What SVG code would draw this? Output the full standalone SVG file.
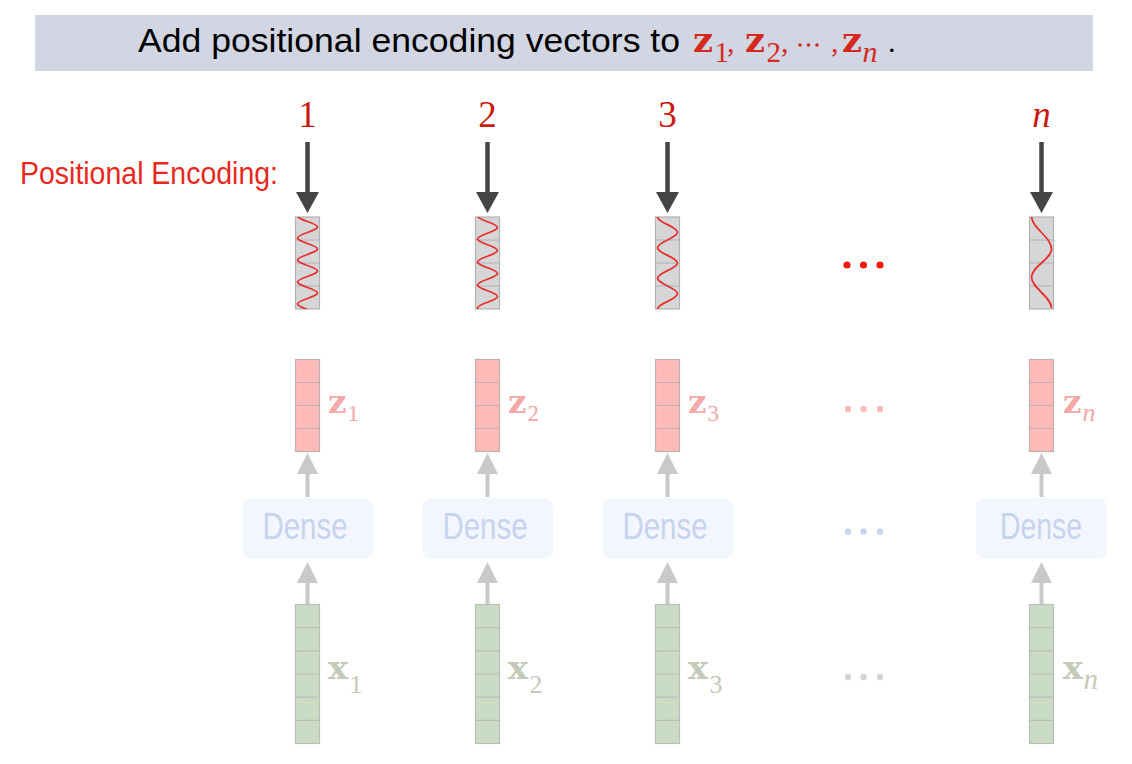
<svg xmlns="http://www.w3.org/2000/svg" width="1132" height="764" viewBox="0 0 1132 764">
<style>
.sans{font-family:"Liberation Sans",Arial,sans-serif}
.ser{font-family:"Liberation Serif","Times New Roman",serif}
.mb{font-family:"DejaVu Serif",serif;font-weight:bold}
.num{font-family:"Liberation Serif",serif;font-size:37px;fill:#C81A10;text-anchor:middle}
.pe{fill:#D6D6D9;stroke:#B2B2B4;stroke-width:1.2}
.pl{stroke:#B2B2B4;stroke-width:1.2}
.wave{fill:none;stroke:#E8302A;stroke-width:1.8}
.zb{fill:#FFBABA;stroke:#C2B0B0;stroke-width:1.2}
.zl{stroke:#C2B0B0;stroke-width:1.2}
.xb{fill:#CADCC4;stroke:#BBBDBA;stroke-width:1.2}
.xl{stroke:#BBBDBA;stroke-width:1.2}
.dense{fill:#F3F6FD}
.dt{font-family:"Liberation Sans",Arial,sans-serif;font-size:36px;fill:#C6D4EF;text-anchor:middle}
.zlab{fill:#F3A8A8}
.xlab{fill:#C3CAB9}
.down{stroke:#454545;stroke-width:4.5;fill:none}
.up{stroke:#C9C9C9;stroke-width:4;fill:none}
</style>
<defs>
<marker id="hd" markerUnits="userSpaceOnUse" markerWidth="22" markerHeight="24" viewBox="0 0 22 24" refX="11" refY="12" orient="auto"><path d="M0,0.5 L21,12 L0,23.5 Z" fill="#454545"/></marker>
<marker id="hu" markerUnits="userSpaceOnUse" markerWidth="22" markerHeight="24" viewBox="0 0 22 24" refX="11" refY="12" orient="auto"><path d="M0,1.5 L21,12 L0,22.5 Z" fill="#C9C9C9"/></marker>
<clipPath id="c1"><rect x="295.5" y="217" width="24" height="92"/></clipPath>
<clipPath id="c2"><rect x="475.5" y="217" width="24" height="92"/></clipPath>
<clipPath id="c3"><rect x="655.5" y="217" width="24" height="92"/></clipPath>
<clipPath id="c4"><rect x="1029.5" y="217" width="24" height="92"/></clipPath>
</defs>
<rect width="1132" height="764" fill="#FFFFFF"/>

<g id="title">
<rect x="35" y="15" width="1058" height="56" fill="#D2D6E2"/>
<text class="sans" x="138" y="52" font-size="33" textLength="542" lengthAdjust="spacingAndGlyphs" fill="#000">Add positional encoding vectors to</text>
<g fill="#D42A1E">
<text class="mb" x="693" y="52" font-size="36" textLength="20" lengthAdjust="spacingAndGlyphs">z</text>
<text class="ser" x="714.5" y="62" font-size="29">1</text>
<text class="ser" x="727" y="52" font-size="30">,</text>
<text class="mb" x="745" y="52" font-size="36" textLength="20" lengthAdjust="spacingAndGlyphs">z</text>
<text class="ser" x="766.5" y="62" font-size="29">2</text>
<text class="ser" x="781" y="52" font-size="30">,</text>
<circle cx="800" cy="45" r="1.8"/><circle cx="808.5" cy="45" r="1.8"/><circle cx="817" cy="45" r="1.8"/>
<text class="ser" x="831" y="52" font-size="30">,</text>
<text class="mb" x="842" y="52" font-size="36" textLength="20" lengthAdjust="spacingAndGlyphs">z</text>
<text class="ser" x="862.5" y="62" font-size="30" font-style="italic">n</text>
</g>
<text class="ser" x="888" y="52" font-size="30" fill="#000">.</text>
</g>

<g id="pe-label">
<text class="sans" x="20" y="184" font-size="32" textLength="258" lengthAdjust="spacingAndGlyphs" fill="#E8281C">Positional Encoding:</text>
</g>

<g id="positions">
<text class="num" x="307.5" y="126.5">1</text>
<text class="num" x="487.5" y="126.5">2</text>
<text class="num" x="667.5" y="126.5">3</text>
<text class="num" x="1041.5" y="126.5" font-style="italic" font-size="40">n</text>
</g>

<g id="pe1">
<rect class="pe" x="295.5" y="217" width="24" height="92"/>
<path class="pl" d="M295.5,240H319.5M295.5,263H319.5M295.5,286H319.5"/>
<path class="wave" clip-path="url(#c1)" d="M297.5,216 C297.5,220 317.5,223 317.5,227 S297.5,234 297.5,238 S317.5,245 317.5,249 S297.5,256 297.5,260 S317.5,267 317.5,271 S297.5,278 297.5,282 S317.5,289 317.5,293 S297.5,300 297.5,304 S317.5,311 317.5,315"/>
</g>
<g id="pe2">
<rect class="pe" x="475.5" y="217" width="24" height="92"/>
<path class="pl" d="M475.5,240H499.5M475.5,263H499.5M475.5,286H499.5"/>
<path class="wave" clip-path="url(#c2)" d="M477.5,216 C477.5,220.2 497.5,223.3 497.5,227.5 S477.5,234.8 477.5,239 S497.5,246.3 497.5,250.5 S477.5,257.8 477.5,262 S497.5,269.3 497.5,273.5 S477.5,280.8 477.5,285 S497.5,292.3 497.5,296.5 S477.5,303.8 477.5,308 S497.5,315.3 497.5,319.5"/>
</g>
<g id="pe3">
<rect class="pe" x="655.5" y="217" width="24" height="92"/>
<path class="pl" d="M655.5,240H679.5M655.5,263H679.5M655.5,286H679.5"/>
<path class="wave" clip-path="url(#c3)" d="M657.5,217 C657.5,222.6 677.5,226.7 677.5,232.3 S657.5,242.1 657.5,247.7 S677.5,257.4 677.5,263 S657.5,272.7 657.5,278.3 S677.5,288.1 677.5,293.7 S657.5,303.4 657.5,309"/>
</g>
<g id="pen">
<rect class="pe" x="1029.5" y="217" width="24" height="92"/>
<path class="pl" d="M1029.5,240H1053.5M1029.5,263H1053.5M1029.5,286H1053.5"/>
<path class="wave" clip-path="url(#c4)" d="M1031.5,216 C1031.5,228 1051.5,237 1051.5,249 C1051.5,259.2 1031.5,266.8 1031.5,277 C1031.5,288.3 1051.5,296.7 1051.5,308"/>
</g>
<g id="pe-dots" fill="#EE1C0C">
<circle cx="847" cy="265" r="3.6"/><circle cx="863.5" cy="265" r="3.6"/><circle cx="880" cy="265" r="3.6"/>
</g>

<g id="z1">
<rect class="zb" x="295.5" y="359.5" width="24" height="92"/>
<path class="zl" d="M295.5,382.5H319.5M295.5,405.5H319.5M295.5,428.5H319.5"/>
<text class="mb zlab" x="328" y="413" font-size="32" textLength="18.5" lengthAdjust="spacingAndGlyphs">z</text><text class="ser zlab" x="347.5" y="421" font-size="23">1</text>
</g>
<g id="z2">
<rect class="zb" x="475.5" y="359.5" width="24" height="92"/>
<path class="zl" d="M475.5,382.5H499.5M475.5,405.5H499.5M475.5,428.5H499.5"/>
<text class="mb zlab" x="508" y="413" font-size="32" textLength="18.5" lengthAdjust="spacingAndGlyphs">z</text><text class="ser zlab" x="527.5" y="421" font-size="23">2</text>
</g>
<g id="z3">
<rect class="zb" x="655.5" y="359.5" width="24" height="92"/>
<path class="zl" d="M655.5,382.5H679.5M655.5,405.5H679.5M655.5,428.5H679.5"/>
<text class="mb zlab" x="688" y="413" font-size="32" textLength="18.5" lengthAdjust="spacingAndGlyphs">z</text><text class="ser zlab" x="707.5" y="421" font-size="23">3</text>
</g>
<g id="zn">
<rect class="zb" x="1029.5" y="359.5" width="24" height="92"/>
<path class="zl" d="M1029.5,382.5H1053.5M1029.5,405.5H1053.5M1029.5,428.5H1053.5"/>
<text class="mb zlab" x="1063" y="413" font-size="32" textLength="18.5" lengthAdjust="spacingAndGlyphs">z</text><text class="ser zlab" x="1082.5" y="421" font-size="26" font-style="italic">n</text>
</g>
<g id="z-dots" fill="#F9BCBC">
<circle cx="848" cy="409" r="3.2"/><circle cx="863.5" cy="409" r="3.2"/><circle cx="880" cy="409" r="3.2"/>
</g>

<g id="dense1"><rect class="dense" x="242" y="498" width="131" height="61" rx="9"/><text class="dt" x="305" y="539" textLength="85" lengthAdjust="spacingAndGlyphs">Dense</text></g>
<g id="dense2"><rect class="dense" x="422" y="498" width="131" height="61" rx="9"/><text class="dt" x="485" y="539" textLength="85" lengthAdjust="spacingAndGlyphs">Dense</text></g>
<g id="dense3"><rect class="dense" x="602" y="498" width="131" height="61" rx="9"/><text class="dt" x="665" y="539" textLength="85" lengthAdjust="spacingAndGlyphs">Dense</text></g>
<g id="densen"><rect class="dense" x="976" y="498" width="131" height="61" rx="9"/><text class="dt" x="1041" y="539" textLength="82" lengthAdjust="spacingAndGlyphs">Dense</text></g>
<g id="dense-dots" fill="#C9D5EF">
<circle cx="848" cy="531.5" r="3.2"/><circle cx="863.5" cy="531.5" r="3.2"/><circle cx="880" cy="531.5" r="3.2"/>
</g>

<g id="x1">
<rect class="xb" x="295.5" y="604.5" width="24" height="139"/>
<path class="xl" d="M295.5,627.7H319.5M295.5,650.8H319.5M295.5,674H319.5M295.5,697.2H319.5M295.5,720.3H319.5"/>
<text class="mb xlab" x="328" y="679" font-size="31" textLength="20" lengthAdjust="spacingAndGlyphs">x</text><text class="ser xlab" x="349.5" y="693" font-size="26">1</text>
</g>
<g id="x2">
<rect class="xb" x="475.5" y="604.5" width="24" height="139"/>
<path class="xl" d="M475.5,627.7H499.5M475.5,650.8H499.5M475.5,674H499.5M475.5,697.2H499.5M475.5,720.3H499.5"/>
<text class="mb xlab" x="508" y="679" font-size="31" textLength="20" lengthAdjust="spacingAndGlyphs">x</text><text class="ser xlab" x="529.5" y="693" font-size="26">2</text>
</g>
<g id="x3">
<rect class="xb" x="655.5" y="604.5" width="24" height="139"/>
<path class="xl" d="M655.5,627.7H679.5M655.5,650.8H679.5M655.5,674H679.5M655.5,697.2H679.5M655.5,720.3H679.5"/>
<text class="mb xlab" x="688" y="679" font-size="31" textLength="20" lengthAdjust="spacingAndGlyphs">x</text><text class="ser xlab" x="709.5" y="693" font-size="26">3</text>
</g>
<g id="xn">
<rect class="xb" x="1029.5" y="604.5" width="24" height="139"/>
<path class="xl" d="M1029.5,627.7H1053.5M1029.5,650.8H1053.5M1029.5,674H1053.5M1029.5,697.2H1053.5M1029.5,720.3H1053.5"/>
<text class="mb xlab" x="1063" y="679" font-size="31" textLength="20" lengthAdjust="spacingAndGlyphs">x</text><text class="ser xlab" x="1083.5" y="689" font-size="29" font-style="italic">n</text>
</g>
<g id="x-dots" fill="#D3D6CF">
<circle cx="848" cy="677" r="3.2"/><circle cx="863.5" cy="677" r="3.2"/><circle cx="880" cy="677" r="3.2"/>
</g>

<g id="connectors">
<path class="down" marker-end="url(#hd)" d="M307.5,142V203"/>
<path class="down" marker-end="url(#hd)" d="M487.5,142V203"/>
<path class="down" marker-end="url(#hd)" d="M667.5,142V203"/>
<path class="down" marker-end="url(#hd)" d="M1041.5,142V203"/>
<path class="up" marker-end="url(#hu)" d="M307.5,497V463"/>
<path class="up" marker-end="url(#hu)" d="M487.5,497V463"/>
<path class="up" marker-end="url(#hu)" d="M667.5,497V463"/>
<path class="up" marker-end="url(#hu)" d="M1041.5,497V463"/>
<path class="up" marker-end="url(#hu)" d="M307.5,604V572"/>
<path class="up" marker-end="url(#hu)" d="M487.5,604V572"/>
<path class="up" marker-end="url(#hu)" d="M667.5,604V572"/>
<path class="up" marker-end="url(#hu)" d="M1041.5,604V572"/>
</g>
</svg>
